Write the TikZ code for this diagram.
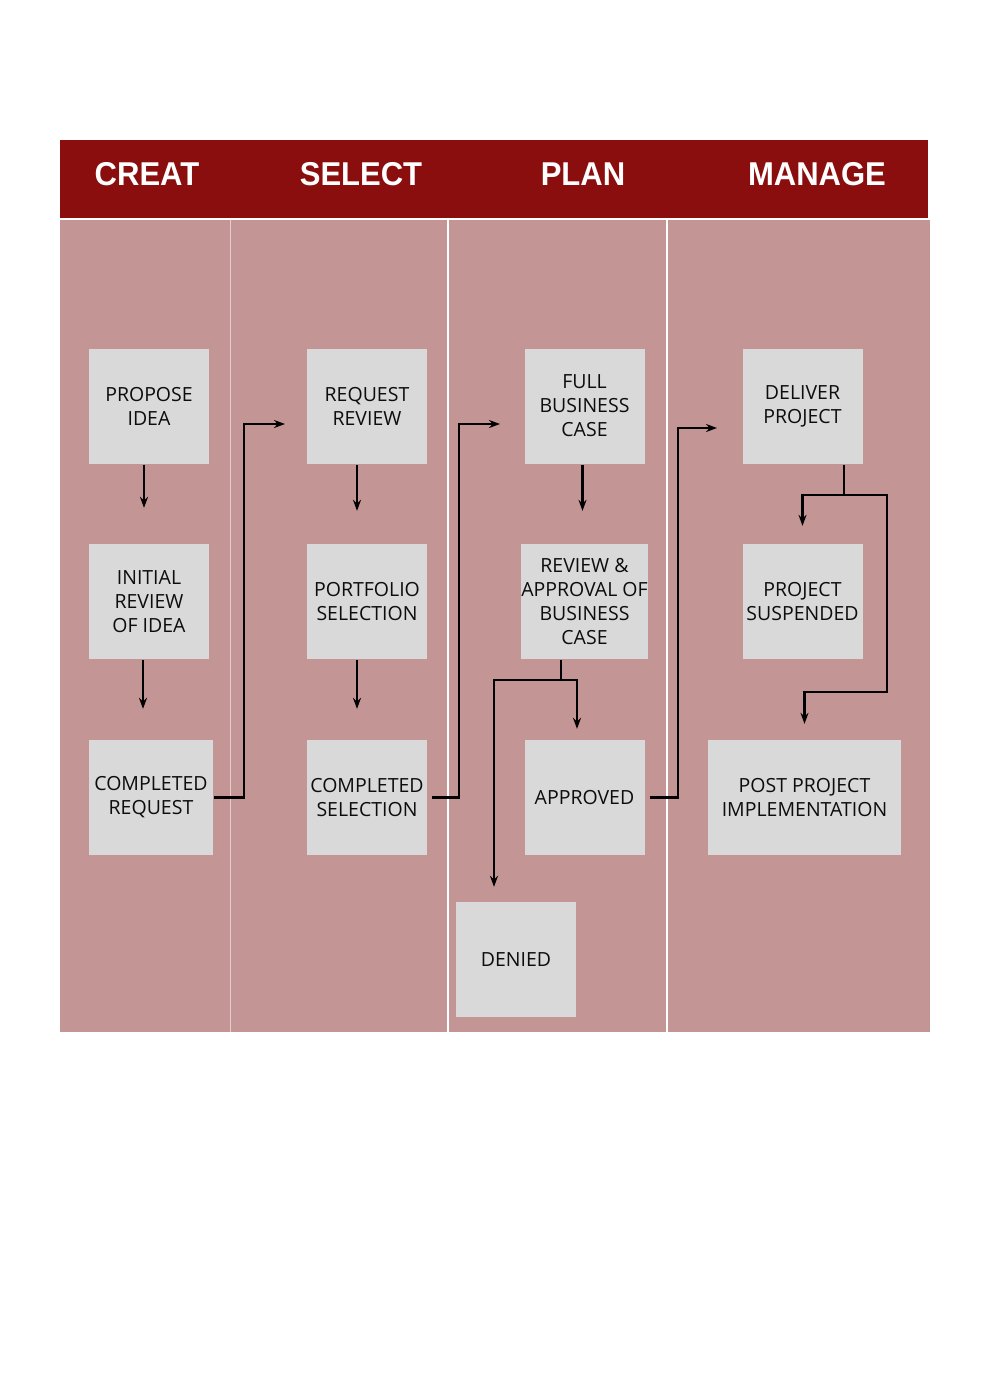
\documentclass[tikz,border=0pt]{standalone}
\usepackage{fontspec}
\setmainfont{Open Sans}
\newfontfamily\headfont{Liberation Sans}
\usetikzlibrary{arrows.meta}

\definecolor{headred}{RGB}{139,14,14}
\definecolor{lanepink}{RGB}{195,149,148}
\definecolor{boxgrey}{RGB}{217,217,217}

\begin{document}
\begin{tikzpicture}[x=1pt, y=-1pt, line width=2.3pt,
    stage/.style={rectangle, fill=boxgrey, inner sep=0pt, minimum width=120, minimum height=115,
        align=center, text=black!95, font=\fontsize{19.5}{24}\selectfont},
    lane/.style={inner sep=0pt, text=white, xscale=0.94, font=\headfont\bfseries\fontsize{33}{36}\selectfont},
    arr/.style={-{Stealth[length=11pt,width=8pt]}}]
    \useasboundingbox[fill=white] (0,0) rectangle (990,1400);

    % header and lanes
    \fill[headred] (60,140) rectangle (928,218);
    \fill[lanepink] (60,220) rectangle (930,1032);
    \draw[white!55!lanepink, line width=1pt] (230,220) -- (230,1032);
    \draw[white, line width=2pt] (447.5,220) -- (447.5,1032);
    \draw[white, line width=2pt] (666.5,220) -- (666.5,1032);

    \node[lane] (creat) at (147,174) {CREAT};
    \node[lane] (select) at (361,174) {SELECT};
    \node[lane] (plan) at (583,174) {PLAN};
    \node[lane] (manage) at (817,174) {MANAGE};

    % steps
    \node[stage] (pi) at (149,406) {PROPOSE\\IDEA};
    \node[stage] (iri) at (149,601.5) {INITIAL\\REVIEW\\OF IDEA};
    \node[stage, minimum width=124] (creq) at (151,797.5) {COMPLETED\\REQUEST};

    \node[stage] (rr) at (367,406) {REQUEST\\REVIEW};
    \node[stage] (ps) at (367,601.5) {PORTFOLIO\\SELECTION};
    \node[stage] (cs) at (367,797.5) {COMPLETED\\SELECTION};

    \node[stage] (fbc) at (584.5,406) {FULL\\BUSINESS\\CASE};
    \node[stage, minimum width=125] (rab) at (584.5,601.5) {REVIEW \&\\APPROVAL OF\\BUSINESS\\CASE};
    \node[stage] (app) at (584.5,797.5) {APPROVED};
    \node[stage] (den) at (516,959.5) {DENIED};

    \node[stage] (del) at (802.5,406) {DELIVER\\PROJECT};
    \node[stage] (sus) at (802.5,601.5) {PROJECT\\SUSPENDED};
    \node[stage, minimum width=193] (post) at (804.5,797.5) {POST PROJECT\\IMPLEMENTATION};

    \coordinate (rrin) at (285,424);
    \coordinate (fbcin) at (500,424);
    \coordinate (delin) at (717,428);
    \coordinate (rsplit) at (561,680);
    \coordinate (dsplit) at (844,495);
    \coordinate (dturn) at (887,692);

    \draw[arr, shorten >=35] ([xshift=-5]pi.south) -- ([xshift=-5]iri.north);
    \draw[arr, shorten >=30] ([xshift=-6]iri.south) -- ([xshift=-8]creq.north);
    \draw[arr] (creq.east) -- ++(30,0) |- (rrin);

    \draw[arr, shorten >=32] ([xshift=-10]rr.south) -- ([xshift=-10]ps.north);
    \draw[arr, shorten >=30] ([xshift=-10]ps.south) -- ([xshift=-10]cs.north);
    \draw[arr] ([xshift=4]cs.east) -- ++(27,0) |- (fbcin);

    \draw[arr, shorten >=32] ([xshift=-2]fbc.south) -- ([xshift=-2]rab.north);
    \draw ([xshift=-23.5]rab.south) -- (rsplit);
    \draw[arr] (rsplit) -| ([xshift=-22,yshift=14]den.north);
    \draw[arr] (rsplit) -| ([xshift=-7.5,yshift=10]app.north);
    \draw[arr] ([xshift=4]app.east) -- ++(28,0) |- (delin);

    \draw ([xshift=41.5]del.south) -- (dsplit);
    \draw[arr] (dsplit) -| ([yshift=17]sus.north);
    \draw[arr] (dsplit) -| (dturn) -| ([yshift=15]post.north);
\end{tikzpicture}
\end{document}
